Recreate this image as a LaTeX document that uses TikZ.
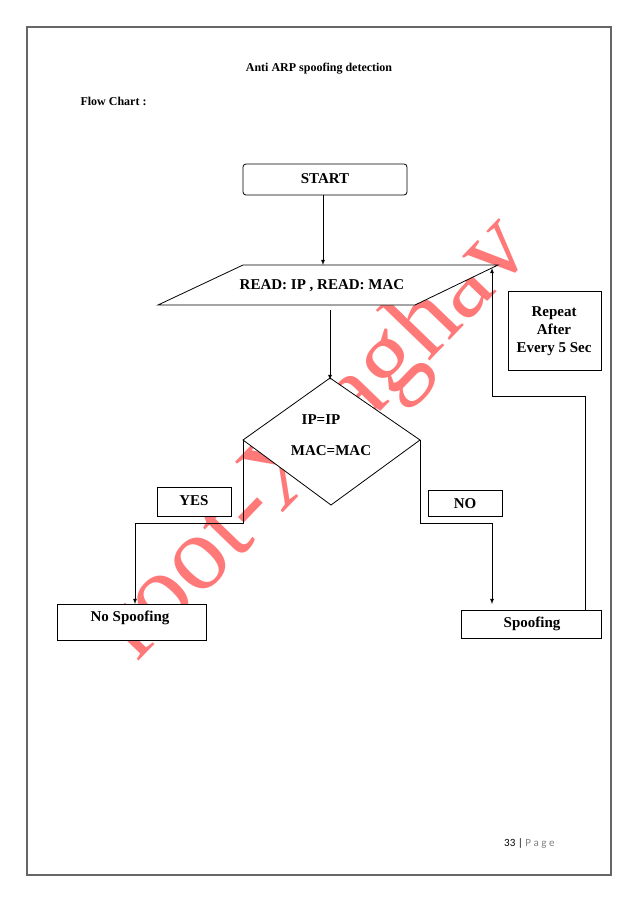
\documentclass[tikz,border=0pt]{standalone}
\usepackage{fontspec}
\setmainfont{Liberation Serif}
\newfontfamily\footfont{Carlito}
\begin{document}
\begin{tikzpicture}[x=1pt,y=-1pt,
  box/.style={draw,line width=0.8pt,fill=white},
  lbl/.style={font=\bfseries\fontsize{15}{18}\selectfont},
  arr/.style={-latex,line width=0.8pt},
  ln/.style={line width=0.8pt}]
\useasboundingbox (0,0) rectangle (638,902);
\draw[line width=1.6pt,gray!80!black] (27,27) rectangle (611,875);
\node[font=\bfseries\fontsize{12}{14}\selectfont] (title) at (319,69) {Anti ARP spoofing detection};
\node[font=\bfseries\fontsize{12}{14}\selectfont,anchor=west] (fc) at (77,101) {Flow Chart :};
% watermark
\node[rotate=46,text=red!70,opacity=0.75,font=\fontsize{106}{108}\selectfont,inner sep=0] (wm) at (318,440) {root-Xraghav};
% shapes
\draw[box,rounded corners=3pt] (243,164) rectangle (407,195);
\node[lbl] (start) at (325,179) {START};
\coordinate (startb) at (323,195);
\draw[box] (243,265) -- (498,265) -- (415,305) -- (158,305) -- cycle;
\node[lbl] (read) at (322,286) {READ: IP , READ: MAC};
\coordinate (readt) at (323,265);
\coordinate (readb) at (330,310);
\draw[box] (330,378) -- (420,440) -- (331,505) -- (243,440) -- cycle;
\coordinate (dtop) at (330,380);
\coordinate (dl) at (243,440);
\coordinate (dr) at (420,440);
\node[lbl] (ip) at (321,420) {IP=IP};
\node[lbl] (mac) at (331,451) {MAC=MAC};
\draw[box] (157,487) rectangle (231,516);
\node[lbl] (yes) at (194,501) {YES};
\draw[box] (428,490) rectangle (502,516);
\node[lbl] (no) at (465,504) {NO};
\draw[box] (57,604) rectangle (206,640);
\node[lbl] (nosp) at (130,618) {No Spoofing};
\draw[box] (461,610) rectangle (601,638);
\node[lbl] (sp) at (532,624) {Spoofing};
\draw[box] (508,291) rectangle (601,370);
\node[lbl,align=center] (rep) at (554,331) {Repeat\\After\\Every 5 Sec};
\coordinate (nspt) at (135,604);
\coordinate (spt) at (492,604);
\coordinate (spr) at (585,610);
\coordinate (readr) at (492,268);
% connectors
\draw[arr] (startb) -- (readt);
\draw[arr] (readb) -- (dtop);
\draw[arr] (dl) -- (243,523) -- (135,523) -- (nspt);
\draw[arr] (dr) -- (420,523) -- (492,523) -- (spt);
\draw[arr] (spr) -- (585,396) -- (492,396) -- (readr);
% footer
\node[anchor=east,font=\footfont\fontsize{11}{13}\selectfont] (pg) at (558,843) {33 | \textcolor{gray}{P a g e}};
\end{tikzpicture}
\end{document}
